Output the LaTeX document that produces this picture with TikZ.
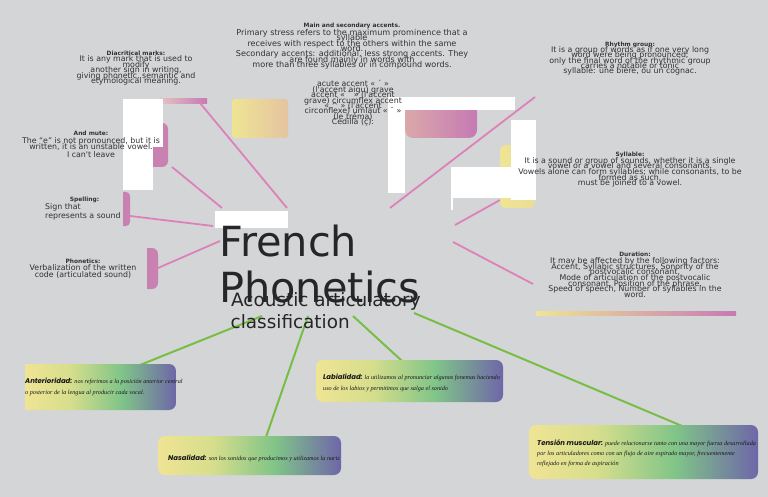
\documentclass[tikz,border=0pt]{standalone}
\usepackage{fontspec}
\newfontfamily\dvs{DejaVu Sans}
\newfontfamily\popfont{Poppins}
\newfontfamily\serfont{Liberation Serif}
\newcommand\eshead[1]{{\popfont\bfseries\fontsize{6.9}{11}\selectfont #1}}
\newcommand\tightlines{\lineskiplimit=-20pt\relax}
\definecolor{bgc}{RGB}{212,213,215}
\definecolor{txt}{RGB}{50,50,50}
\definecolor{pkline}{RGB}{222,128,186}
\definecolor{grline}{RGB}{118,190,70}
\definecolor{yel}{RGB}{239,228,148}
\definecolor{yelgrn}{RGB}{214,222,140}
\definecolor{grn}{RGB}{128,196,136}
\definecolor{pur}{RGB}{110,102,168}
\definecolor{pkL}{RGB}{218,168,170}
\definecolor{pkR}{RGB}{198,122,180}
\definecolor{peach}{RGB}{228,196,160}
\pgfdeclarehorizontalshading{yelgrnpur}{100bp}{color(0bp)=(yel); color(25bp)=(yel); color(40bp)=(yelgrn); color(57bp)=(grn); color(75bp)=(pur); color(100bp)=(pur)}
\begin{document}
\begin{tikzpicture}[x=1pt,y=-1pt,
  note/.style={font=\dvs\fontsize{7.85}{5.5}\selectfont\tightlines, text=txt, align=center, inner sep=0pt, anchor=north},
  head/.style={font=\dvs\bfseries\fontsize{5.9}{6}\selectfont, text=txt, inner sep=0pt, anchor=base},
  pk/.style={draw=pkline, line width=1.8pt},
  gr/.style={draw=grline, line width=2pt},
  esbox/.style={shading=yelgrnpur, rounded corners=7pt},
  estext/.style={font=\serfont\itshape\fontsize{6.2}{11}\selectfont, text=black!90, align=left, inner sep=0pt, anchor=north west}]
\useasboundingbox (0,0) rectangle (768,497);
\fill[bgc] (0,0) rectangle (768,497);

% coloured blocks
\shade[left color=yel, right color=peach, rounded corners=3pt] (232,99) rectangle (288,138);
\shade[left color=pkL, right color=pkR, rounded corners=8pt] (405,104) rectangle (477,138);
\shade[left color=yel, right color=yel!75!peach, rounded corners=6pt] (500,145) rectangle (535,208);
\shade[left color=pkL!70!white, right color=pkR] (160,99) rectangle (207,104);
\fill[pkR!85!pkL] (140,123) [rounded corners=6pt] -- (168,123) -- (168,167) [sharp corners] -- (140,167) -- cycle;
\fill[pkR!85!pkL] (123,192) [rounded corners=4pt] -- (130,192) -- (130,226) [sharp corners] -- (123,226) -- cycle;
\fill[pkR!85!pkL] (147,248) [rounded corners=6pt] -- (158,248) -- (158,289) [sharp corners] -- (147,289) -- cycle;
\shade[left color=yel, right color=pkR] (536,311) rectangle (736,315);

% white patches
\fill[white] (123,99) rectangle (163,147);
\fill[white] (123,99) rectangle (153,190);
\fill[white] (388,97) rectangle (515,110);
\fill[white] (388,97) rectangle (405,193);
\fill[white] (215,211) rectangle (288,228);
\fill[white] (511,120) rectangle (536,200);
\fill[white] (451,167) rectangle (536,198);
\fill[white] (451,198) rectangle (453,210);

% line ends
\coordinate (hubA) at (287,208);
\coordinate (hubB) at (222,208);
\coordinate (hubC) at (213,226);
\coordinate (hubD) at (220,241);
\coordinate (hubE) at (390,208);
\coordinate (hubF) at (455,225);
\coordinate (hubG) at (453,242);
\coordinate (diaEnd) at (200,103);
\coordinate (muteEnd) at (172,167);
\coordinate (spelEnd) at (130,216);
\coordinate (phonEnd) at (158,268);
\coordinate (rhyEnd) at (535,97);
\coordinate (sylEnd) at (500,200);
\coordinate (durEnd) at (533,284);
\coordinate (subA) at (262,316);
\coordinate (subB) at (308,316);
\coordinate (subC) at (353,316);
\coordinate (subD) at (414,313);
\coordinate (anterEnd) at (140,365);
\coordinate (nasEnd) at (266,437);
\coordinate (labEnd) at (402,361);
\coordinate (tenEnd) at (682,426);

\draw[pk] (hubA) -- (diaEnd);
\draw[pk] (hubB) -- (muteEnd);
\draw[pk] (hubC) -- (spelEnd);
\draw[pk] (hubD) -- (phonEnd);
\draw[pk] (hubE) -- (rhyEnd);
\draw[pk] (hubF) -- (sylEnd);
\draw[pk] (hubG) -- (durEnd);
\draw[gr] (subA) -- (anterEnd);
\draw[gr] (subB) -- (nasEnd);
\draw[gr] (subC) -- (labEnd);
\draw[gr] (subD) -- (tenEnd);

% spanish boxes
\shade[esbox] (25,364) [sharp corners] -- (25,364) [rounded corners=7pt] -- (176,364) -- (176,410) [sharp corners] -- (25,410) -- cycle;
\shade[esbox] (316,360) rectangle (503,402);
\shade[esbox] (529,425) rectangle (758,479);
\begin{scope}
  \clip[rounded corners=7pt] (158,436) rectangle (341,475);
  \shade[esbox] (158,436) rectangle (341,475);
  \node[estext] (nasB) at (168,454.6) {\eshead{Nasalidad:} son los sonidos que producimos y utilizamos la nariz};
\end{scope}
\node[estext] (anterB) at (25,377.6) {\eshead{Anterioridad:} nos referimos a la posición anterior central\\o posterior de la lengua al producir cada vocal.};
\node[estext] (labB) at (323,373.6) {\eshead{Labialidad:} la utilizamos al pronunciar algunos fonemas haciendo\\uso de los labios y permitimos que salga el sonido};
\node[estext, font=\serfont\itshape\fontsize{6.2}{10}\selectfont] (tenB) at (537,439.6) {\eshead{Tensión muscular:} puede relacionarse tanto con una mayor fuerza desarrollada\\por los articuladores como con un flujo de aire espirado mayor, frecuentemente\\reflejado en forma de aspiración};

% title
\node[font=\dvs\fontsize{41.5}{47}\selectfont, text=black!85, inner sep=0pt, anchor=base west] (titleA) at (219,256) {French};
\node[font=\dvs\fontsize{41.5}{47}\selectfont, text=black!85, inner sep=0pt, anchor=base west] (titleB) at (219,302) {Phonetics};
\node[font=\dvs\fontsize{18.4}{22}\selectfont, text=black!85, inner sep=0pt, anchor=base west] (subT) at (231,306) {Acoustic articulatory};
\node[font=\dvs\fontsize{18.4}{22}\selectfont, text=black!85, inner sep=0pt, anchor=base west] (subT2) at (230.5,328) {classification};

% notes
\node[head] (diaT) at (136,55.8) {Diacritical marks:};
\node[note] (diaB) at (136,55.5) {It is any mark that is used to\\modify\\another sign in writing,\\giving phonetic, semantic and\\etymological meaning.};
\node[head] (mainT) at (352,27.8) {Main and secondary accents.};
\node[note, font=\dvs\fontsize{8.1}{5.33}\selectfont\tightlines] (mainB) at (352,29.2) {Primary stress refers to the maximum prominence that a\\syllable\\receives with respect to the others within the same\\word.\\Secondary accents: additional, less strong accents. They\\are found mainly in words with\\more than three syllables or in compound words.};
\node[note, font=\dvs\fontsize{7.85}{5.4}\selectfont\tightlines] (accB) at (353,80.5) {acute accent « ´ »\\(l'accent aigu) grave\\accent « \textasciigrave{} » (l'accent\\grave) circumflex accent\\« \textasciicircum{} » (l'accent\\circonflexe) umlaut « ¨ »\\(le tréma)\\Cedilla (ç):};
\node[head] (rhyT) at (630,46.1) {Rhythm group:};
\node[note, font=\dvs\fontsize{7.85}{5.4}\selectfont\tightlines] (rhyB) at (630,46.2) {It is a group of words as if one very long\\word were being pronounced;\\only the final word of the rhythmic group\\carries a notable or tonic\\syllable: une bière, ou un cognac.};
\node[head] (sylT) at (630,156.8) {Syllable:};
\node[note, font=\dvs\fontsize{7.85}{5.65}\selectfont\tightlines] (sylB) at (630,156.9) {It is a sound or group of sounds, whether it is a single\\vowel or a vowel and several consonants.\\Vowels alone can form syllables; while consonants, to be\\formed as such,\\must be joined to a vowel.};
\node[head] (durT) at (635,256.8) {Duration:};
\node[note, font=\dvs\fontsize{7.85}{5.67}\selectfont\tightlines] (durB) at (635,257.2) {It may be affected by the following factors:\\Accent, Syllabic structures, Sonority of the\\postvocalic consonant,\\Mode of articulation of the postvocalic\\consonant, Position of the phrase,\\Speed of speech, Number of syllables in the\\word.};
\node[head] (muteT) at (91,135.8) {And mute:};
\node[note, font=\dvs\fontsize{7.85}{6}\selectfont\tightlines] (muteB) at (91,136.9) {The “e” is not pronounced, but it is\\written, it is an unstable vowel.\\[2.3pt]I can't leave};
\node[head] (spelT) at (84.5,201.8) {Spelling:};
\node[note, align=left, anchor=north west, font=\dvs\fontsize{7.85}{7}\selectfont] (spelB) at (45,203.5) {Sign that\\represents a sound};
\node[head] (phonT) at (83,263.5) {Phonetics:};
\node[note, font=\dvs\fontsize{7.85}{6.7}\selectfont\tightlines] (phonB) at (83,264.5) {Verbalization of the written\\code (articulated sound)};
\end{tikzpicture}
\end{document}
